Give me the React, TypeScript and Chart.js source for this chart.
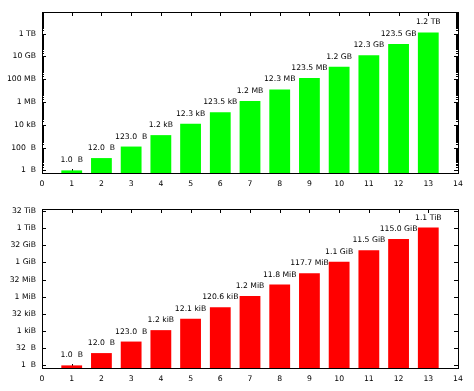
import React, { useEffect, useRef } from 'react';
import { Chart, registerables } from 'chart.js';

Chart.register(...registerables);

// ---- data ----
const positions = [1, 2, 3, 4, 5, 6, 7, 8, 9, 10, 11, 12, 13];
const byteCounts = [
  1, 12, 123, 1234, 12345, 123456, 1234567, 12345678, 123456789,
  1234567890, 12345678901, 123456789012, 1234567890123,
];
const decimalBarLabels = [
  '1.0  B', '12.0  B', '123.0  B', '1.2 kB', '12.3 kB', '123.5 kB', '1.2 MB',
  '12.3 MB', '123.5 MB', '1.2 GB', '12.3 GB', '123.5 GB', '1.2 TB',
];
const binaryBarLabels = [
  '1.0  B', '12.0  B', '123.0  B', '1.2 kiB', '12.1 kiB', '120.6 kiB', '1.2 MiB',
  '11.8 MiB', '117.7 MiB', '1.1 GiB', '11.5 GiB', '115.0 GiB', '1.1 TiB',
];
const decimalTickValues = [1, 100, 1e4, 1e6, 1e8, 1e10, 1e12];
const decimalTickLabels = ['1  B', '100  B', '10 kB', '1 MB', '100 MB', '10 GB', '1 TB'];
const binaryTickValues = [
  1, 32, 1024, 32768, 1048576, 33554432, 1073741824, 34359738368,
  1099511627776, 35184372088832,
];
const binaryTickLabels = [
  '1  B', '32  B', '1 kiB', '32 kiB', '1 MiB', '32 MiB', '1 GiB', '32 GiB', '1 TiB', '32 TiB',
];
const xTickMin = 0;
const xTickMax = 14;

const FONT_FAMILY = '"DejaVu Sans", "Liberation Sans", sans-serif';
const FONT_SIZE = 7.7;

type PanelProps = {
  top: number;
  height: number;
  padTop: number;
  xHeight: number;
  yMin: number;
  yMax: number;
  color: string;
  tickValues: number[];
  tickLabels: string[];
  barLabels: string[];
  minorTicks: boolean;
};

function Panel(p: PanelProps) {
  const ref = useRef<HTMLCanvasElement | null>(null);
  useEffect(() => {
    if (!ref.current) return;
    const framePlugin = {
      id: 'frame',
      beforeDatasetsDraw(chart: any) {
        const { ctx, chartArea: a, scales } = chart;
        const x = scales.x;
        const y = scales.y;
        ctx.save();
        ctx.strokeStyle = '#000';
        ctx.lineWidth = 1;
        ctx.beginPath();
        for (let v = xTickMin; v <= xTickMax; v++) {
          const px = Math.round(x.getPixelForValue(v)) + 0.5;
          ctx.moveTo(px, a.top);
          ctx.lineTo(px, a.top + 4);
          ctx.moveTo(px, a.bottom);
          ctx.lineTo(px, a.bottom - 4);
        }
        const L = Math.round(a.left);
        const R = Math.round(a.right);
        for (const v of p.tickValues) {
          const py = Math.round(y.getPixelForValue(v)) + 0.5;
          ctx.moveTo(L, py);
          ctx.lineTo(L + 4, py);
          ctx.moveTo(R, py);
          ctx.lineTo(R - 4, py);
        }
        if (p.minorTicks) {
          for (const base of p.tickValues) {
            for (let k = 2; k < 100; k++) {
              const v = base * k;
              if (v > y.max) break;
              const py = Math.round(y.getPixelForValue(v)) + 0.5;
              ctx.moveTo(L, py);
              ctx.lineTo(L + 2, py);
              ctx.moveTo(R, py);
              ctx.lineTo(R - 2, py);
            }
          }
        }
        ctx.stroke();
        ctx.restore();
      },
      afterDatasetsDraw(chart: any) {
        const { ctx, chartArea: a } = chart;
        ctx.save();
        ctx.strokeStyle = '#000';
        ctx.lineWidth = 1;
        ctx.strokeRect(
          Math.round(a.left) + 0.5,
          Math.round(a.top) + 0.5,
          Math.round(a.right) - Math.round(a.left),
          Math.round(a.bottom) - Math.round(a.top)
        );
        ctx.fillStyle = '#000';
        ctx.font = `${FONT_SIZE}px ${FONT_FAMILY}`;
        ctx.textAlign = 'center';
        ctx.textBaseline = 'middle';
        const meta = chart.getDatasetMeta(0);
        meta.data.forEach((el: any, i: number) => {
          ctx.fillText(p.barLabels[i], el.x, el.y - 10);
        });
        ctx.restore();
      },
    };

    const chart = new Chart(ref.current, {
      type: 'bar',
      data: {
        datasets: [
          {
            data: positions.map((px, i) => ({ x: px, y: byteCounts[i] })),
            backgroundColor: p.color,
            borderWidth: 0,
            barPercentage: 0.7,
            categoryPercentage: 1,
          },
        ],
      },
      options: {
        responsive: false,
        animation: false,
        devicePixelRatio: 1,
        layout: { padding: { top: p.padTop, right: 16, left: 0, bottom: 0 } },
        plugins: { legend: { display: false }, tooltip: { enabled: false } },
        scales: {
          x: {
            type: 'linear',
            min: xTickMin,
            max: xTickMax,
            offset: false,
            grid: { display: false, drawTicks: false, offset: false },
            border: { display: false },
            ticks: {
              stepSize: 1,
              autoSkip: false,
              maxRotation: 0,
              padding: 6,
              color: '#000',
              font: { family: FONT_FAMILY, size: FONT_SIZE },
            },
            afterFit: (s: any) => {
              s.height = p.xHeight;
            },
          },
          y: {
            type: 'logarithmic',
            min: p.yMin,
            max: p.yMax,
            grid: { display: false, drawTicks: false },
            border: { display: false },
            ticks: {
              autoSkip: false,
              padding: 6,
              color: '#000',
              font: { family: FONT_FAMILY, size: FONT_SIZE },
              callback: (value: any) => {
                const idx = p.tickValues.indexOf(Number(value));
                return idx >= 0 ? p.tickLabels[idx] : '';
              },
            },
            afterBuildTicks: (s: any) => {
              s.ticks = p.tickValues.map((v) => ({ value: v }));
            },
            afterFit: (s: any) => {
              s.width = 42;
            },
          },
        },
      },
      plugins: [framePlugin],
    } as any);
    return () => chart.destroy();
  }, []);

  return (
    <canvas
      ref={ref}
      width={474}
      height={p.height}
      style={{ position: 'absolute', left: 0, top: p.top, width: 474, height: p.height, display: 'block' }}
    />
  );
}

export default function App() {
  return (
    <div style={{ position: 'fixed', left: 0, top: 0, width: 474, height: 391, background: '#fff' }}>
      <Panel
        top={0}
        height={195}
        padTop={12}
        xHeight={22}
        yMin={0.59}
        yMax={7.7e13}
        color="#00ff00"
        tickValues={decimalTickValues}
        tickLabels={decimalTickLabels}
        barLabels={decimalBarLabels}
        minorTicks={true}
      />
      <Panel
        top={195}
        height={196}
        padTop={14}
        xHeight={23}
        yMin={0.59}
        yMax={5.2e13}
        color="#ff0000"
        tickValues={binaryTickValues}
        tickLabels={binaryTickLabels}
        barLabels={binaryBarLabels}
        minorTicks={false}
      />
    </div>
  );
}
